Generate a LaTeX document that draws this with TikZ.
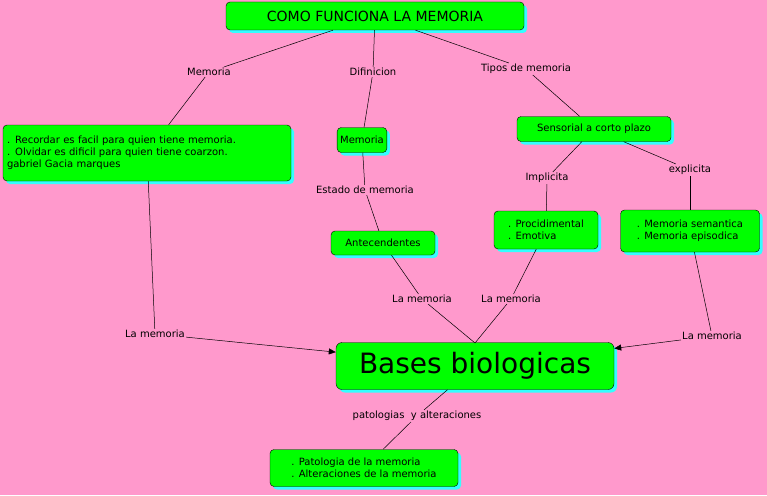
\documentclass[tikz,border=0pt]{standalone}
\usepackage{fontspec}
\setmainfont{DejaVu Sans}
\usetikzlibrary{shadows,arrows.meta}
\definecolor{bg}{HTML}{FF99CC}
\definecolor{gr}{HTML}{00FF00}
\definecolor{cy}{HTML}{33FFFF}
\begin{document}
\begin{tikzpicture}[x=1pt,y=-1pt,
  box/.style={draw=black,fill=gr,rounded corners=4pt,inner sep=3pt,font=\fontsize{10}{12}\selectfont,
    drop shadow={shadow xshift=3pt,shadow yshift=-3pt,fill=cy,opacity=1}},
  lab/.style={font=\fontsize{10}{12}\selectfont,inner sep=1pt},
  ln/.style={draw=black,line width=0.5pt},
  ar/.style={ln,-{Triangle[length=7pt,width=6pt]}}]
\fill[bg] (0,0) rectangle (767,495);
\useasboundingbox (0,0) rectangle (767,495);
\node[box,minimum width=298,minimum height=28,font=\fontsize{14}{16}\selectfont] (t) at (375,16) {COMO FUNCIONA LA MEMORIA};
\node[box,minimum width=288,minimum height=56,align=left,text width=280] (q) at (147,153) {. Recordar es facil para quien tiene memoria.\\. Olvidar es dificil para quien tiene coarzon.\\gabriel Gacia marques};
\node[box,minimum width=38,minimum height=25] (m) at (362,140) {Memoria};
\node[box,minimum width=104,minimum height=24] (a) at (383,243) {Antecendentes};
\node[box,minimum width=154,minimum height=25] (s) at (594,129) {Sensorial a corto plazo};
\node[box,minimum width=104,minimum height=38,align=left] (p) at (546,230) {. Procidimental\\. Emotiva};
\node[box,minimum width=139,minimum height=42,align=left] (e) at (690,231) {. Memoria semantica\\. Memoria episodica};
\node[box,minimum width=278,minimum height=47,font=\fontsize{28}{32}\selectfont,rounded corners=6pt] (b) at (475,366) {Bases biologicas};
\node[box,minimum width=188,minimum height=37,align=left] (pa) at (364,468) {. Patologia de la memoria\\. Alteraciones de la memoria};
\node[lab] (l1) at (209,72) {Memoria};
\node[lab] (l2) at (373,72) {Difinicion};
\node[lab] (l3) at (526,69) {Tipos de memoria};
\node[lab] (l4) at (365,190) {Estado de memoria};
\node[lab] (l5) at (547,178) {Implicita};
\node[lab] (l6) at (690,170) {explicita};
\node[lab] (l7) at (155,334) {La memoria};
\node[lab] (l8) at (422,299) {La memoria};
\node[lab] (l9) at (511,299) {La memoria};
\node[lab] (l10) at (712,336) {La memoria};
\node[lab] (l11) at (417,416) {patologias \ y alteraciones};
\coordinate (bt) at (475,343);
\draw[ln] (t) -- (l1); \draw[ln] (l1) -- (q);
\draw[ln] (t) -- (l2); \draw[ln] (l2) -- (m);
\draw[ln] (t) -- (l3); \draw[ln] (l3) -- (s);
\draw[ln] (m) -- (l4); \draw[ln] (l4) -- (a);
\draw[ln] (s) -- (l5); \draw[ln] (l5) -- (p);
\draw[ln] (s) -- (l6); \draw[ln] (l6) -- (e);
\draw[ln] (q) -- (l7); \draw[ar] (l7) -- (b);
\draw[ln] (a) -- (l8); \draw[ln] (l8) -- (bt);
\draw[ln] (p) -- (l9); \draw[ln] (l9) -- (bt);
\draw[ln] (e) -- (l10); \draw[ar] (l10) -- (b);
\draw[ln] (b) -- (l11); \draw[ln] (l11) -- (pa);
\end{tikzpicture}
\end{document}
